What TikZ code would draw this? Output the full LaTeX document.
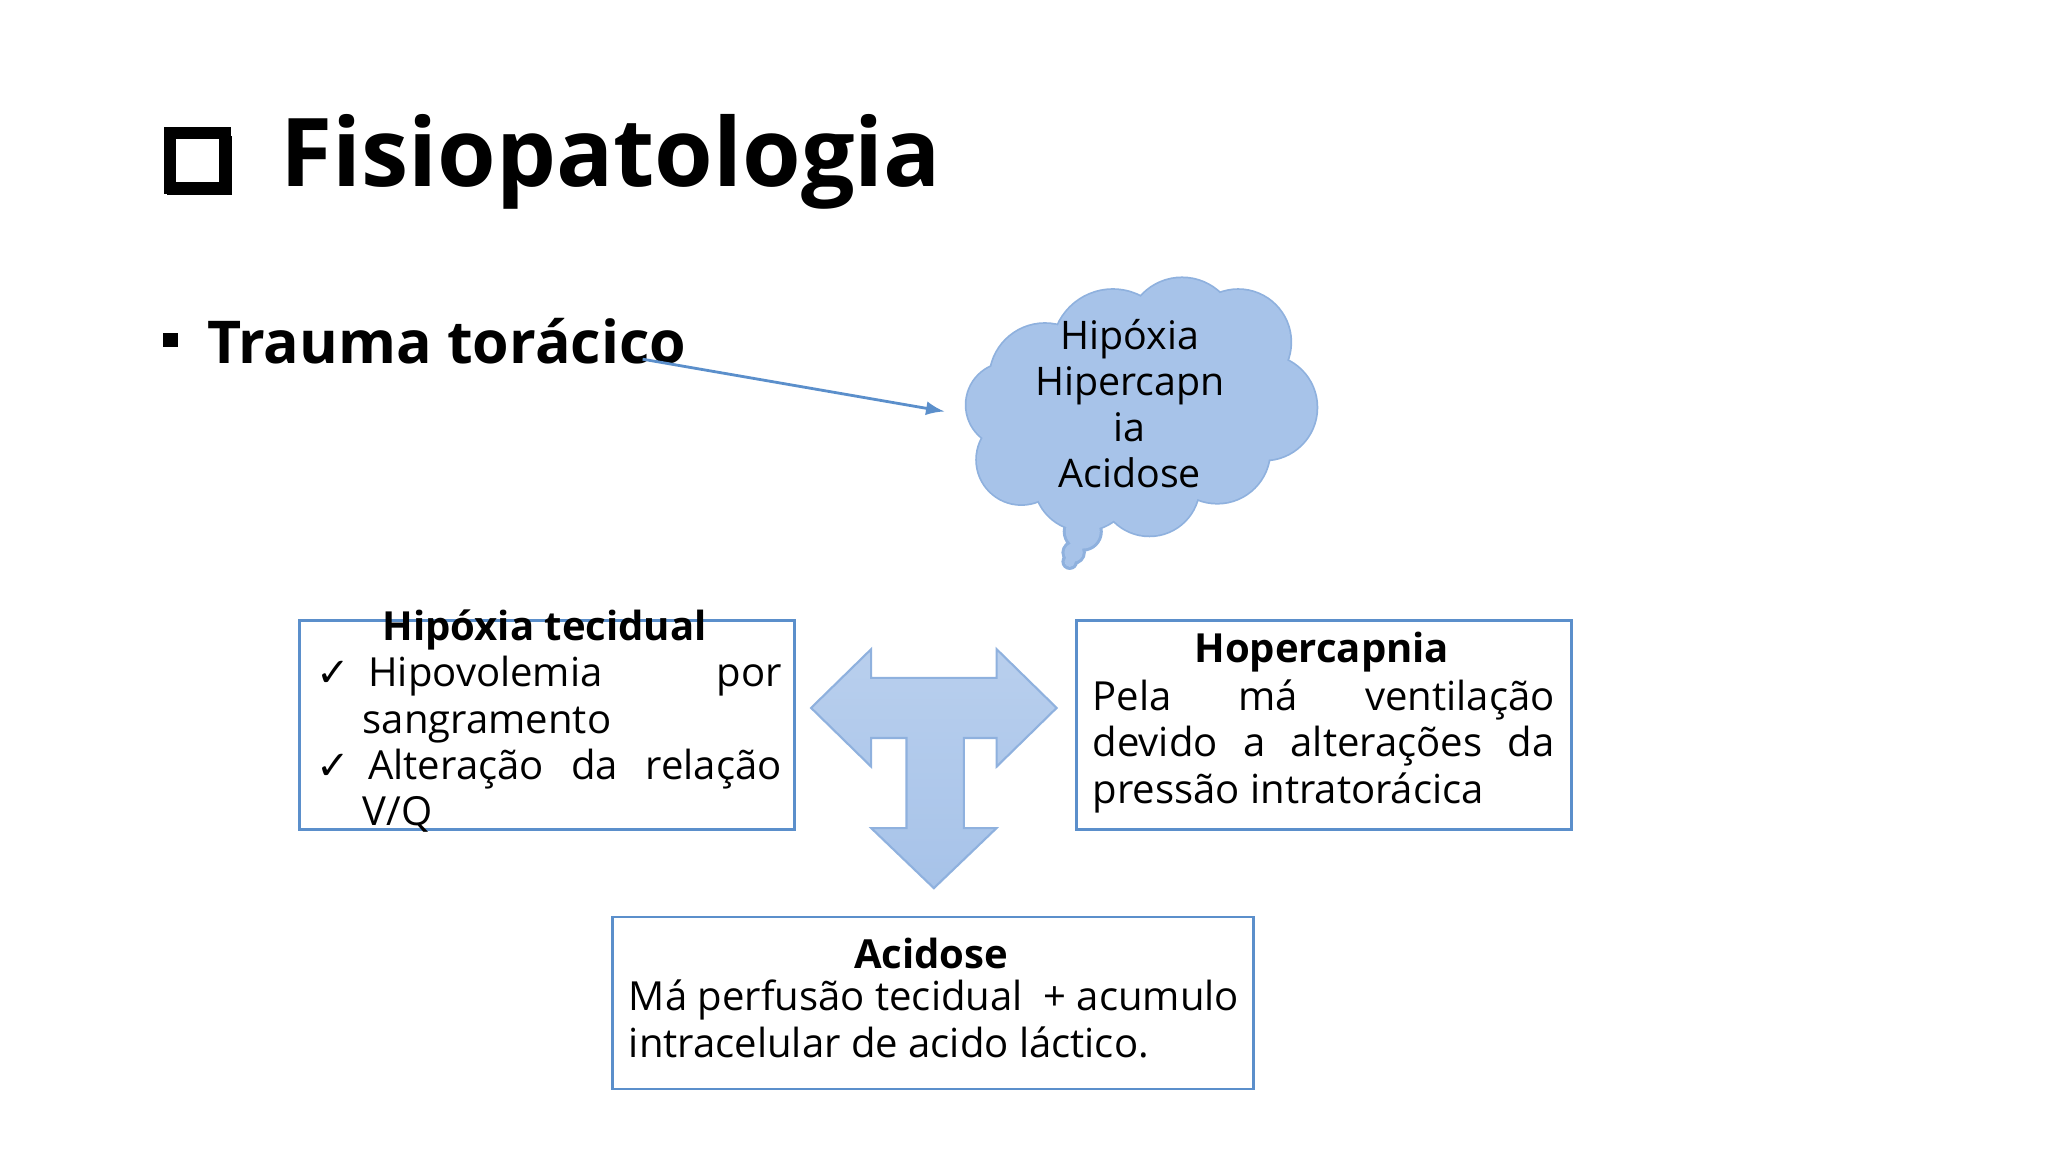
\documentclass[tikz,border=0pt]{standalone}
\usepackage{fontspec}
\setmainfont{Open Sans}
\newfontfamily\symf{DejaVu Sans}
\definecolor{bbord}{HTML}{5B8FCB}
\definecolor{cfill}{HTML}{A7C3E9}
\definecolor{cbord}{HTML}{8FB1DE}
\begin{document}
\begin{tikzpicture}[x=0.01306cm,y=-0.01306cm,
  box/.style={draw=bbord,line width=0.8pt,fill=white},
  txt/.style={font=\fontsize{11.4}{13.5}\selectfont,inner sep=0pt}]
\useasboundingbox (0,0) rectangle (1568,882);
% title
\draw[black,line width=3.5pt] (130,102) rectangle (172,144);
\fill[black] (128,140) rectangle (178,149);
\fill[black] (170,104) rectangle (178,149);
\node[anchor=west,font=\fontsize{27}{30}\selectfont\bfseries,inner sep=0pt] (title) at (214,124) {Fisiopatologia};
\fill[black] (125,255) rectangle (136,266);
\node[anchor=west,font=\fontsize{16.8}{20}\selectfont\bfseries,inner sep=0pt] (trauma) at (158,261) {Trauma torácico};
\coordinate (a1) at (492,275);
% cloud
\begin{scope}
\foreach \x/\y/\r in {800/290/42,852/268/46,905/255/42,948/262/40,968/312/40,932/345/40,880/372/38,830/368/38,782/352/34,772/310/32}
  \draw[cbord,line width=1pt] (\x,\y) circle (\r);
\draw[cbord,line width=1pt] (829,407) circle (14) (822,423) circle (8) (819,430) circle (5);
\foreach \x/\y/\r in {800/290/42,852/268/46,905/255/42,948/262/40,968/312/40,932/345/40,880/372/38,830/368/38,782/352/34,772/310/32}
  \fill[cfill] (\x,\y) circle (\r);
\fill[cfill] (873,315) ellipse (110 and 70);
\fill[cfill] (829,407) circle (13) (822,423) circle (7) (819,430) circle (4);
\end{scope}
\node[txt,align=center,font=\fontsize{11.2}{13.1}\selectfont] (cloud) at (865,309) {Hipóxia\\Hipercapn\\ia\\Acidose};
\coordinate (a2) at (723,315);
\draw[-latex,bbord,line width=0.8pt] (a1) -- (a2);
% T arrow
\shade[top color=cfill!80,bottom color=cfill,draw=cbord,line width=0.6pt]
 (621,542) -- (667,497) -- (667,519) -- (763,519) -- (763,497) -- (809,542) -- (763,587) -- (763,565)
 -- (738,565) -- (738,634) -- (763,634) -- (715,680) -- (667,634) -- (694,634) -- (694,565)
 -- (667,565) -- (667,587) -- cycle;
% box 1
\node[box,anchor=north west,inner sep=0pt,minimum width=4.95cm,minimum height=2.09cm] (b1) at (228,474) {};
\node[txt,font=\fontsize{11.4}{13}\selectfont\bfseries] (b1t) at (417,482) {Hipóxia tecidual};
\node[txt,anchor=north west] (b1x) at (242,502) {\parbox{4.65cm}{\setlength{\baselineskip}{13.2pt}%
{\symf ✓}\hspace{0.18cm}Hipovolemia\hfill por\\
\hspace*{0.46cm}sangramento\\
{\symf ✓}\hspace{0.18cm}Alteração \hfill da \hfill relação\\
\hspace*{0.46cm}V/Q}};
% box 2
\node[box,anchor=north west,inner sep=0pt,minimum width=4.95cm,minimum height=2.09cm] (b2) at (823,474) {};
\node[txt,font=\fontsize{11.4}{13}\selectfont\bfseries] (b2t) at (1012,499) {Hopercapnia};
\node[txt,anchor=north west] (b2x) at (836,520) {\parbox{4.62cm}{\setlength{\baselineskip}{13.2pt}%
Pela\hfill má\hfill ventilação\\
devido \hfill a \hfill alterações \hfill da\\
pressão intratorácica}};
% box 3
\node[box,anchor=north west,inner sep=0pt,minimum width=6.41cm,minimum height=1.72cm] (b3) at (468,701) {};
\node[txt,font=\fontsize{11.4}{13}\selectfont\bfseries] (b3t) at (713,730) {Acidose};
\node[txt,anchor=north west] (b3x) at (481,750) {\parbox{6.1cm}{\setlength{\baselineskip}{13.2pt}%
Má perfusão tecidual \hfill+\hfill acumulo\\
intracelular de acido láctico.}};
\end{tikzpicture}
\end{document}
